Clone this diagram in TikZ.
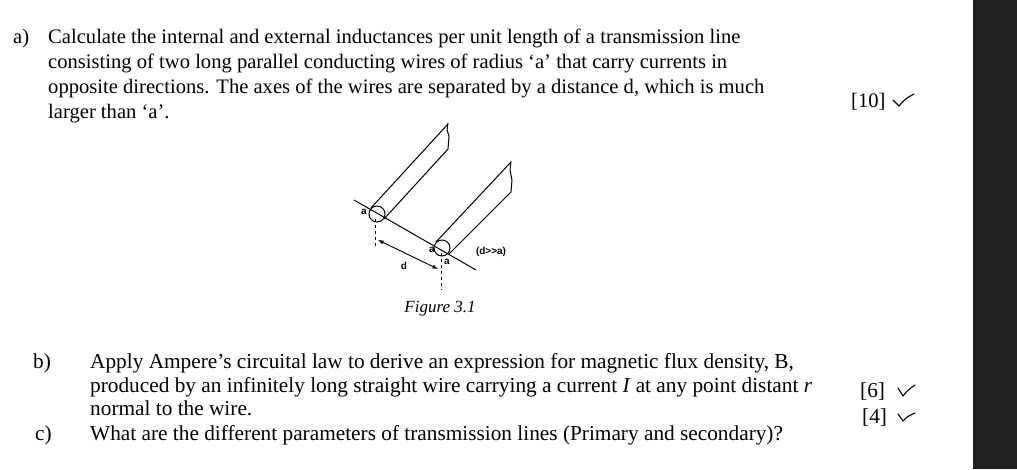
\documentclass[tikz,border=0pt]{standalone}
\usepackage{fontspec}
\setmainfont{Liberation Serif}
\newfontfamily\labfont{Liberation Sans}
\begin{document}
\begin{tikzpicture}[x=1pt,y=-1pt,
  tx/.style={anchor=base west,inner sep=0pt,font=\fontsize{20.6}{24}\selectfont},
  txb/.style={anchor=base west,inner sep=0pt,font=\fontsize{21.3}{24}\selectfont},
  sm/.style={inner sep=0pt,font=\labfont\bfseries\fontsize{10}{11}\selectfont},
  fig/.style={line width=1pt},
  chk/.style={line width=1.1pt,line cap=round,line join=round}]
\useasboundingbox (0,0) rectangle (1017,469);
\fill[white] (0,0) rectangle (1017,469);
\fill[black!87] (973,0) rectangle (1017,469);
% question a
\node[tx] (la) at (13,43) {a)};
\node[tx] (a1) at (48,43) {Calculate the internal and external inductances per unit length of a transmission line};
\node[tx] (a2) at (48,68) {consisting of two long parallel conducting wires of radius ‘a’ that carry currents in};
\node[tx] (a3) at (48,93) {opposite directions. The axes of the wires are separated by a distance d, which is much};
\node[tx] (a4) at (48,118) {larger than ‘a’.};
\node[tx] (m10) at (851,107) {[10]};
\draw[chk] (893,100) .. controls (897,104) .. (899,106) .. controls (905,99) .. (914,94);
% figure
\draw[fig] (354,200) -- (476,270);
\draw[fig] (371,208) -- (448,124);
\draw[fig] (384,219) -- (448,149);
\draw[fig] (448,123) -- (447,130) -- (449,136) -- (448,149);
\draw[fig] (436,242) -- (511,162);
\draw[fig] (449,254) -- (511,192);
\draw[fig] (511,161) -- (510,170) -- (512,180) -- (511,192);
\node[circle,draw,line width=1pt,minimum size=16pt,inner sep=0pt] (c1) at (377,214) {};
\node[circle,draw,line width=1pt,minimum size=16pt,inner sep=0pt] (c2) at (442,248) {};
\draw[line width=0.8pt,dashed] (375,219) -- (375,246);
\draw[line width=0.8pt,dashed] (441,253) -- (441,290);
\coordinate (d1) at (378,240);
\coordinate (d2) at (438,269);
\draw[line width=0.9pt,<->,>=latex] (d1) -- (d2);
\node[sm] (ta1) at (364,212) {a};
\node[sm] (ta2) at (432,250) {a};
\node[sm] (ta3) at (447,262) {a};
\node[sm] (td) at (404,266) {d};
\node[sm] (tdd) at (491,252) {(d>>a)};
\node[anchor=base,inner sep=0pt,font=\itshape\fontsize{17}{20}\selectfont] (cap) at (440,312) {Figure 3.1};
% question b, c
\node[txb] (lb) at (33,368) {b)};
\node[txb] (b1) at (90,368) {Apply Ampere’s circuital law to derive an expression for magnetic flux density, B,};
\node[txb] (b2) at (90,392) {produced by an infinitely long straight wire carrying a current \textit{I} at any point distant \textit{r}};
\node[txb] (b3) at (90,415) {normal to the wire.};
\node[txb] (lc) at (35,440) {c)};
\node[txb] (c1t) at (90,440) {What are the different parameters of transmission lines (Primary and secondary)?};
\node[txb] (m6) at (860,397) {[6]};
\draw[chk] (898,388) .. controls (901,392) .. (903,396) .. controls (908,390) .. (915,385);
\node[txb] (m4) at (862,423) {[4]};
\draw[chk] (898,414) .. controls (901,418) .. (903,421) .. controls (908,416) .. (915,413);
\end{tikzpicture}
\end{document}
